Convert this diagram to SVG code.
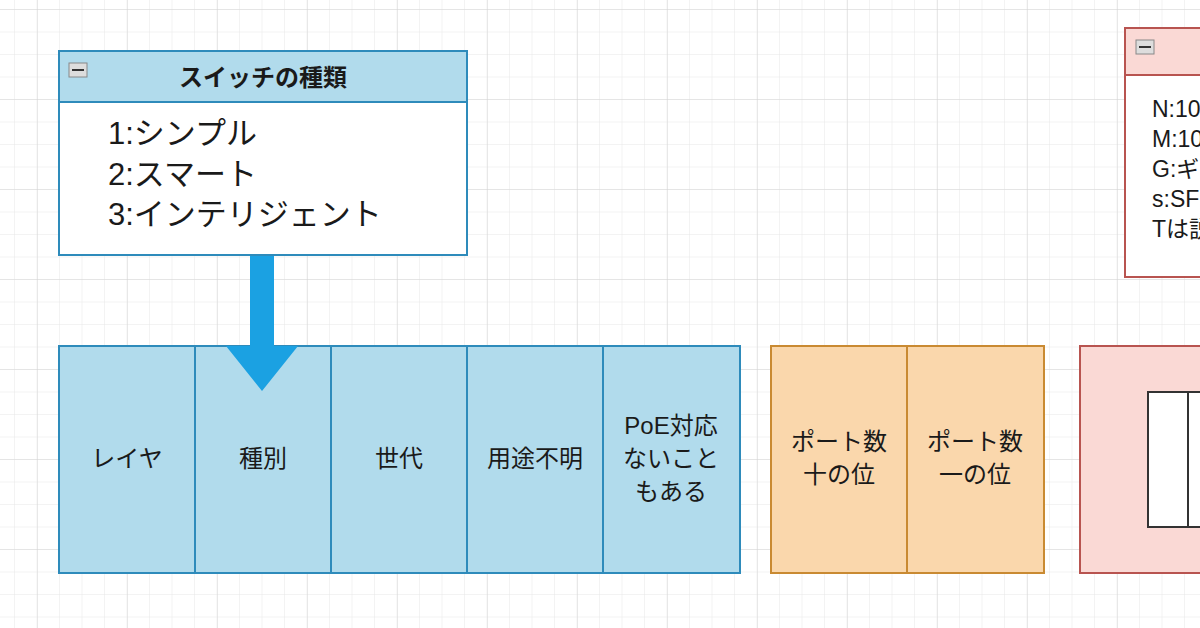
<svg xmlns="http://www.w3.org/2000/svg" width="1200" height="628" viewBox="0 0 1200 628">
<style>
text{font-family:"Liberation Sans","Noto Sans CJK JP",sans-serif;fill:#1a1a1a}
.b{fill:#b1dbec;stroke:#2e8bbb;stroke-width:2}
.o{fill:#fad7ac;stroke:#c98a32;stroke-width:2}
.p{fill:#fad9d5;stroke:#b85450;stroke-width:2}
.c{font-size:24px;text-anchor:middle}
.l{font-size:31px}
.t{font-size:23px}
</style>
<defs>
<pattern id="g" width="22.5" height="22.5" patternUnits="userSpaceOnUse" x="15" y="10"><path d="M22.5 0V22.5H0" fill="none" stroke="#e8e8e8" stroke-width="1"/></pattern>
<pattern id="G" width="90" height="90" patternUnits="userSpaceOnUse" x="38" y="10"><path d="M90 0V90H0" fill="none" stroke="#d6d6d6" stroke-width="1"/></pattern>
</defs>
<rect width="1200" height="628" fill="#fff"/>
<rect width="1200" height="628" fill="url(#g)"/>
<rect width="1200" height="628" fill="url(#G)"/>
<g id="types">
<rect x="59" y="51" width="408" height="204" fill="#fff" stroke="#2e8bbb" stroke-width="2"/>
<rect x="59" y="51" width="408" height="51" class="b"/>
<rect x="69" y="63" width="18" height="14" fill="#ddd" stroke="#888"/><line x1="72" y1="70" x2="84" y2="70" stroke="#333" stroke-width="2"/>
<text x="263" y="86" font-size="24" font-weight="bold" text-anchor="middle">スイッチの種類</text>
<text x="108" y="144" class="l">1:シンプル</text>
<text x="108" y="185" class="l">2:スマート</text>
<text x="108" y="225" class="l">3:インテリジェント</text>
</g>
<g id="legend">
<rect x="1125" y="28" width="90" height="249" fill="#fff" stroke="#b85450" stroke-width="2"/>
<rect x="1125" y="28" width="90" height="47" class="p"/>
<rect x="1136" y="40" width="18" height="14" fill="#ddd" stroke="#888"/><line x1="1139" y1="47" x2="1151" y2="47" stroke="#333" stroke-width="2"/>
<text x="1152" y="117" class="t">N:10</text>
<text x="1152" y="147" class="t">M:10</text>
<text x="1152" y="177" class="t">G:ギ</text>
<text x="1152" y="207" class="t">s:SF</text>
<text x="1152" y="237" class="t">Tは説</text>
</g>
<g id="c1"><rect x="59" y="346" width="136" height="227" class="b"/><text x="127" y="467" class="c">レイヤ</text></g>
<g id="c2"><rect x="195" y="346" width="136" height="227" class="b"/><text x="263" y="467" class="c">種別</text></g>
<g id="c3"><rect x="331" y="346" width="136" height="227" class="b"/><text x="399" y="467" class="c">世代</text></g>
<g id="c4"><rect x="467" y="346" width="136" height="227" class="b"/><text x="535" y="467" class="c">用途不明</text></g>
<g id="c5"><rect x="603" y="346" width="137" height="227" class="b"/><text class="c"><tspan x="671" y="434">PoE対応</tspan><tspan x="671" y="467">ないこと</tspan><tspan x="671" y="500">もある</tspan></text></g>
<g id="c6"><rect x="771" y="346" width="136" height="227" class="o"/><text class="c"><tspan x="839" y="450">ポート数</tspan><tspan x="839" y="483">十の位</tspan></text></g>
<g id="c7"><rect x="907" y="346" width="137" height="227" class="o"/><text class="c"><tspan x="975" y="450">ポート数</tspan><tspan x="975" y="483">一の位</tspan></text></g>
<g id="c8"><rect x="1080" y="346" width="140" height="227" class="p"/>
<rect x="1148" y="392" width="40" height="135" fill="#fff" stroke="#333" stroke-width="2"/>
<rect x="1188" y="392" width="40" height="135" fill="#fff" stroke="#333" stroke-width="2"/></g>
<g id="connectors">
<path d="M250 256H274V346H298L262 391L226 346H250Z" fill="#1ba1e2"/>
</g>
</svg>
